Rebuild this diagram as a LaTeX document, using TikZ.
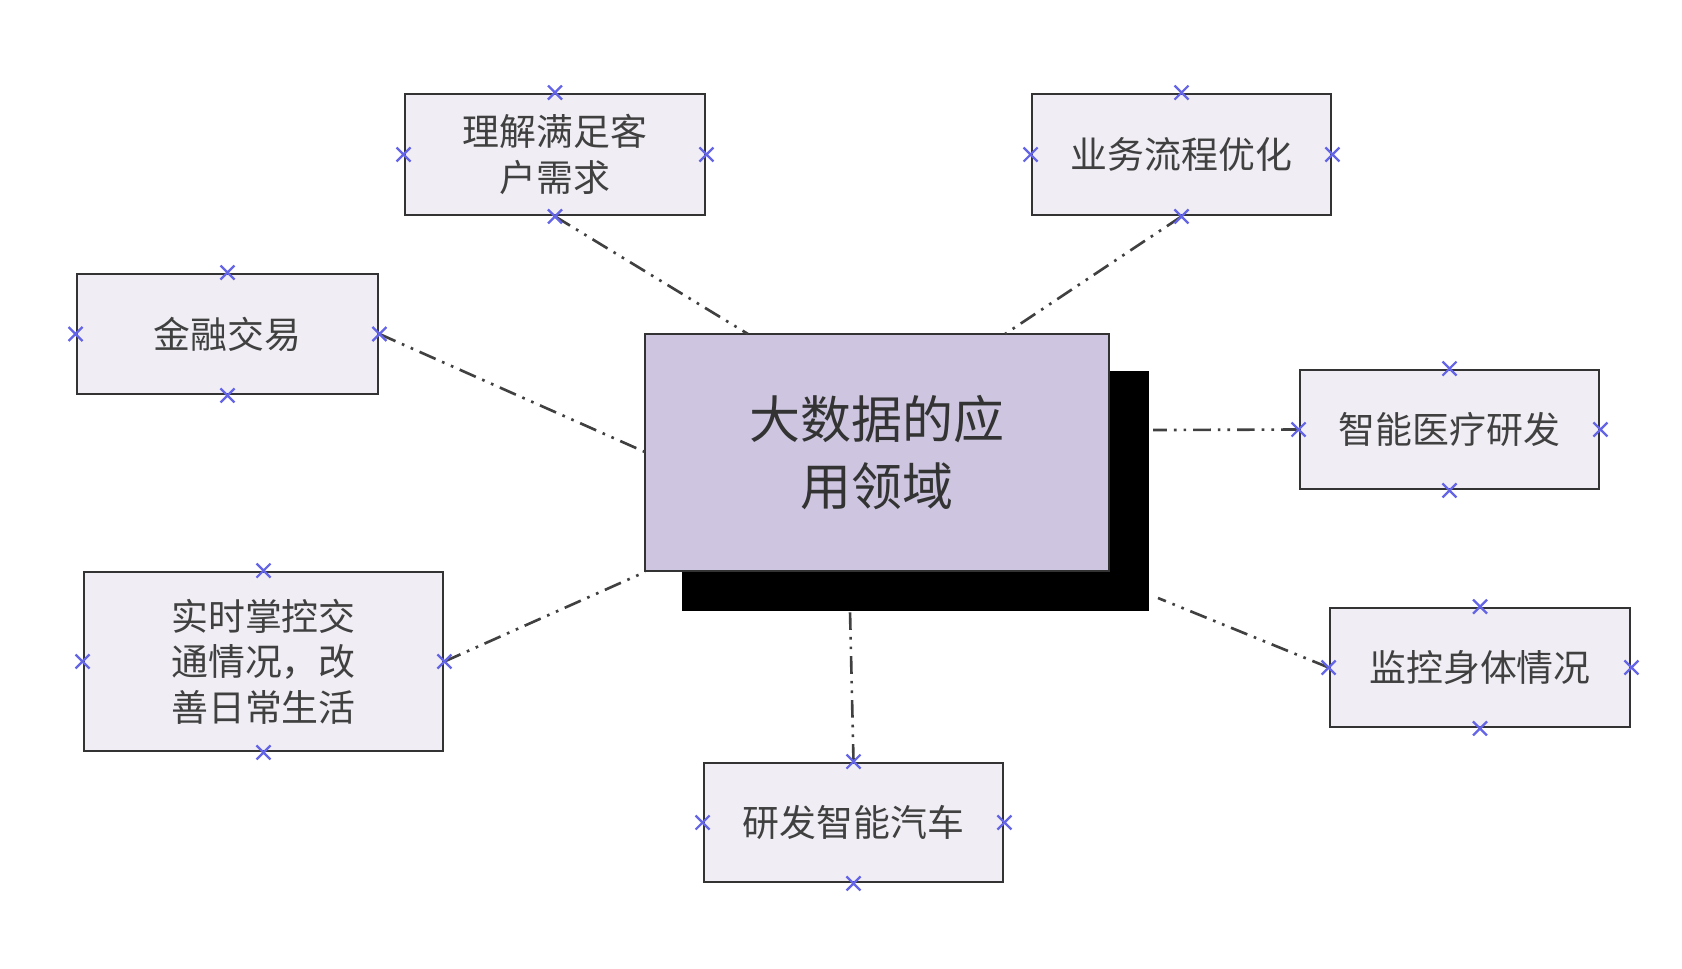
\documentclass[tikz,border=0pt]{standalone}
\usepackage{fontspec}
\usetikzlibrary{calc}
\newfontfamily\cjk{Noto Sans CJK SC}
\begin{document}
\begin{tikzpicture}[x=0.02cm,y=-0.02cm,
  leaf/.style={draw=black!80,line width=1.6pt,fill={rgb,255:red,240;green,238;blue,244},font=\cjk\fontsize{21}{26}\selectfont,text=black!75,align=center,inner sep=0pt},
  conn/.style={line width=1.5pt,black!75,dash pattern=on 10pt off 4pt on 1.5pt off 4pt on 1.5pt off 4pt},
  xm/.style={draw={rgb,255:red,100;green,100;blue,230},line width=1.3pt}]
\useasboundingbox (0,0) rectangle (1682,968);
\def\bx#1#2#3#4#5#6{\node[leaf,minimum width={(#4-#2)*0.02cm},minimum height={(#5-#3)*0.02cm}] (#1) at ({(#2+#4)/2},{(#3+#5)/2}) {#6};}
\bx{a}{405}{94}{705}{215}{理解满足客\\户需求}
\bx{b}{1032}{94}{1331}{215}{业务流程优化}
\bx{c}{77}{274}{378}{394}{金融交易}
\bx{d}{1300}{370}{1599}{489}{智能医疗研发}
\bx{e}{84}{572}{443}{751}{实时掌控交\\通情况，改\\善日常生活}
\bx{f}{1330}{608}{1630}{727}{监控身体情况}
\bx{g}{704}{763}{1003}{882}{研发智能汽车}
\fill[black] (682,371) rectangle (1149,611);
\node[draw=black!80,line width=1.6pt,fill={rgb,255:red,206;green,198;blue,224},minimum width=9.28cm,minimum height=4.74cm,font=\cjk\fontsize{29}{38}\selectfont,text=black!80,align=center,inner sep=0pt] (m) at (877,452.5) {大数据的应\\用领域};
\coordinate (pa) at (748,334);
\coordinate (pb) at (1005,334);
\coordinate (pc) at (645,452);
\coordinate (pd) at (1153,430);
\coordinate (pe) at (645,572);
\coordinate (pf) at (1158,598);
\coordinate (pg) at (850,611);
\draw[conn] (a.south) -- (pa);
\draw[conn] (b.south) -- (pb);
\draw[conn] (c.east) -- (pc);
\draw[conn] (d.west) -- (pd);
\draw[conn] (e.east) -- (pe);
\draw[conn] (f.west) -- (pf);
\draw[conn] (g.north) -- (pg);
\foreach \n in {a,b,c,d,e,f,g}{
  \foreach \an in {north,south,east,west}{
    \draw[xm] ($(\n.\an)+(-7,-7)$) -- ++(14,14) ($(\n.\an)+(-7,7)$) -- ++(14,-14);
  }}
\end{tikzpicture}
\end{document}
